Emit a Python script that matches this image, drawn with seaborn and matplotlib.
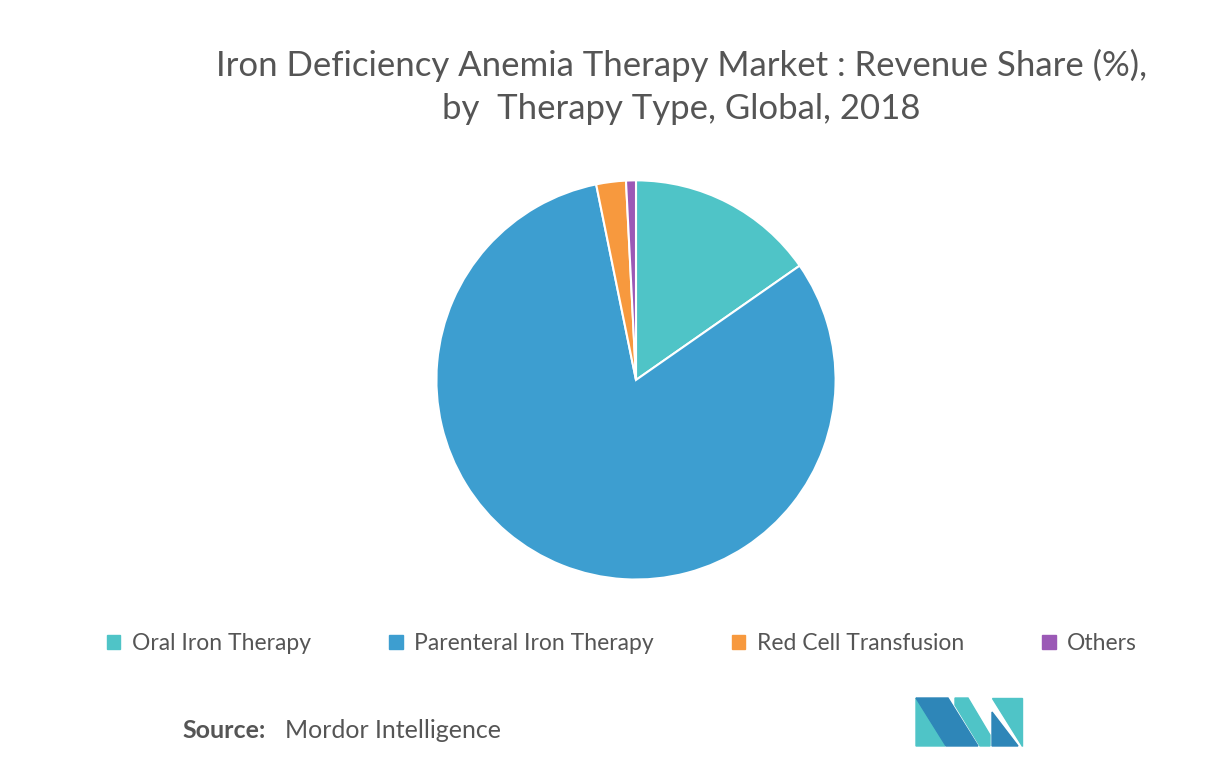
import matplotlib.pyplot as plt
import seaborn as sns
from matplotlib.patches import Polygon

sns.set_theme(style="white")
plt.rcParams['font.family'] = ['Lato', 'DejaVu Sans']

labels = ["Oral Iron Therapy", "Parenteral Iron Therapy", "Red Cell Transfusion", "Others"]
shares = [15.3, 81.5, 2.4, 0.8]
colors = ["#4FC4C7", "#3D9ED0", "#F7993E", "#9B59B6"]

fig = plt.figure(figsize=(12.17, 7.66), dpi=100)
aw = 0.41
ah = aw * 1217 / 766
ax = fig.add_axes([0.5226 - aw / 2, 0.504 - ah / 2, aw, ah])
ax.pie(shares, colors=colors, startangle=90, counterclock=False,
       wedgeprops=dict(edgecolor="white", linewidth=1.5))
ax.set_aspect("equal")

fig.text(0.56, 0.915, "Iron Deficiency Anemia Therapy Market : Revenue Share (%),",
         ha="center", va="center", fontsize=25, color="#555555")
fig.text(0.56, 0.858, "by  Therapy Type, Global, 2018",
         ha="center", va="center", fontsize=25, color="#555555")

handles = [plt.Rectangle((0, 0), 1, 1, color=c) for c in colors]
fig.legend(handles, labels, loc="center", bbox_to_anchor=(0.511, 0.16), ncol=4,
           frameon=False, fontsize=16.5, handlelength=0.6, handleheight=0.6,
           columnspacing=3.4, handletextpad=0.5, labelcolor="#555555")

fig.text(0.15, 0.046, "Source:", fontsize=18, fontweight="bold", color="#555555", va="center")
fig.text(0.234, 0.046, "Mordor Intelligence", fontsize=18, color="#555555", va="center")

# logo
W, H = 1217, 766
def poly(pts, c):
    fig.patches.append(Polygon([(x / W, 1 - y / H) for x, y in pts], closed=True,
                               color=c, transform=fig.transFigure, figure=fig))
poly([(916, 746), (916, 698), (945, 746)], "#4FC4C7")
poly([(916, 698), (948, 698), (978, 746), (946, 746)], "#2E86B8")
poly([(955, 698), (968, 698), (990, 735), (990, 746), (980, 746), (955, 705)], "#4FC4C7")
poly([(992, 698), (1022, 698), (1022, 746)], "#4FC4C7")
poly([(992, 712), (1018, 746), (992, 746)], "#2E86B8")

fig.savefig("out.png", dpi=100)
